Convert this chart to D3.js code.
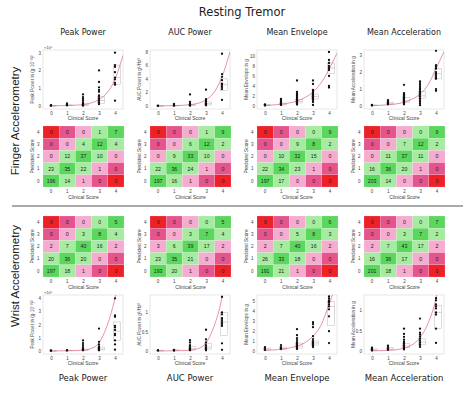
<!DOCTYPE html>
<html><head><meta charset="utf-8">
<script src="https://cdn.jsdelivr.net/npm/d3@7"></script>
<style>body{margin:0;background:#fff}svg{display:block}</style>
</head><body><svg id="c" width="474" height="398"></svg>
<script>
// ---------- data ----------
const scores = [0, 1, 2, 3, 4];
const mainTitle = "Resting Tremor";
const colTitles = ["Peak Power", "AUC Power", "Mean Envelope", "Mean Acceleration"];
const rowTitles = ["Finger Accelerometry", "Wrist Accelerometry"];
const predOrder = [4, 3, 2, 1, 0];
const fitX = [0, 0.5, 1, 1.5, 2, 2.5, 3, 3.5, 4, 4.5];

// confusion matrices: rows = predicted 4..0, cols = clinical 0..4
const fPeakCM = [[0,0,0,1,7],[0,0,4,12,4],[0,12,37,10,0],[23,35,22,1,0],[196,14,1,0,0]];
const fAucCM  = [[0,0,0,1,9],[0,0,6,12,2],[0,9,33,10,0],[22,36,24,1,0],[197,16,1,0,0]];
const fEnvCM  = [[0,0,0,0,9],[0,0,9,8,2],[0,10,32,15,0],[22,34,23,1,0],[197,17,0,0,0]];
const fAccCM  = [[0,0,0,0,9],[0,0,7,12,2],[0,11,37,11,0],[16,36,20,1,0],[203,14,0,0,0]];
const wPeakCM = [[0,0,0,0,5],[0,0,3,8,4],[2,7,40,16,2],[20,36,20,0,0],[197,18,1,0,0]];
const wAucCM  = [[0,0,0,0,5],[0,0,3,7,4],[3,6,39,17,2],[23,35,21,0,0],[193,20,1,0,0]];
const wEnvCM  = [[0,0,0,0,6],[0,0,5,8,3],[2,7,40,16,2],[26,33,18,0,0],[191,21,1,0,0]];
const wAccCM  = [[0,0,0,0,7],[0,0,3,7,2],[2,7,43,17,2],[16,36,17,0,0],[201,18,1,0,0]];

// scatter values per clinical score 0..4
const fPeakPts = [[0.02,0.03,0.05],[0.03,0.06,0.1,0.15],[0.02,0.05,0.1,0.15,0.2,0.3,0.4,0.5,0.65],
  [0.1,0.2,0.3,0.4,0.5,0.6,0.8,0.9,1.05,1.35,2.0],[0.3,1.2,1.3,1.5,1.6,1.9,2.2,2.3,3.0]];
const fPeakBox = [[0,0.01,0.03],[0.02,0.04,0.06],[0.03,0.06,0.12],[0.15,0.3,0.55],[1.2,1.6,2.3]];
const fPeakFit = [0.01,0.015,0.025,0.045,0.08,0.17,0.36,0.74,1.5,2.85];
const fPeakTicks = [0,1,2,3];

const fAucPts = [[0.02,0.05],[0.05,0.1,0.2,0.3],[0.05,0.1,0.2,0.3,0.4,0.6,1.7],
  [0.1,0.2,0.3,0.4,0.6,0.8,1.0,2.4],[0.9,2.5,2.8,3.1,3.3,3.8,4.3,4.7,7.7]];
const fAucBox = [[0,0.02,0.04],[0.03,0.06,0.1],[0.06,0.12,0.25],[0.15,0.35,0.6],[2.3,3.2,4.0]];
const fAucFit = [0.02,0.03,0.05,0.1,0.2,0.4,0.9,2.0,4.3,8.0];
const fAucTicks = [0,2,4,6,8];

const fEnvPts = [[0.1,0.2,0.3],[0.2,0.4,0.6,0.8,1.0,1.2,1.4],
  [0.3,0.5,0.7,0.9,1.1,1.3,1.5,1.7,1.9,2.1,2.3,2.5,2.8,5.1],
  [0.2,0.8,1.2,1.4,1.6,1.8,2.0,2.2,2.4,2.6,2.8,3.0,3.2,4.4,5.1],
  [3.7,4.0,6.0,7.2,7.6,8.0,8.6,9.2,10.8]];
const fEnvBox = [[0.1,0.15,0.25],[0.2,0.35,0.6],[0.6,0.9,1.3],[1.4,1.9,2.4],[6.5,7.6,8.6]];
const fEnvFit = [0.1,0.2,0.35,0.6,1.0,1.7,2.8,4.6,7.3,10.6];
const fEnvTicks = [0,2,4,6,8,10];

const fAccPts = [[0.03,0.06],[0.1,0.15,0.2,0.25,0.3,0.35],
  [0.1,0.15,0.2,0.25,0.3,0.35,0.4,0.45,0.5,0.55,0.6,0.65,0.7,0.75,1.25],
  [0.05,0.15,0.25,0.35,0.45,0.55,0.65,0.75,0.85,0.95,1.05,1.15,1.25,1.35,1.45],
  [0.9,1.0,1.6,1.7,1.8,1.9,2.0,2.2,2.3,2.4,3.25]];
const fAccBox = [[0.02,0.04,0.06],[0.1,0.15,0.22],[0.2,0.3,0.5],[0.45,0.6,0.85],[1.6,1.9,2.2]];
const fAccFit = [0.02,0.04,0.07,0.12,0.22,0.4,0.7,1.25,2.2,3.2];
const fAccTicks = [0,1,2,3];

const wPeakPts = [[0.02,0.04],[0.03,0.06],[0.05,0.1,0.2,0.3,0.45,0.6,0.8],
  [0.05,0.1,0.15,0.25,0.35,0.5,0.7,1.7],[0.1,0.5,0.8,1.2,1.3,1.6,1.8,1.9,2.6,2.7,4.0]];
const wPeakBox = [[0,0.02,0.03],[0.02,0.04,0.06],[0.04,0.08,0.15],[0.08,0.15,0.3],[0.8,1.5,2.2]];
const wPeakFit = [0.005,0.01,0.02,0.03,0.06,0.18,0.62,1.9,4.0,7.0];
const wPeakTicks = [0,1,2,3,4];

const wAucPts = [[0.01,0.02],[0.01,0.02,0.03],[0.02,0.03,0.06,0.1,0.15,0.22,0.28],
  [0.02,0.04,0.06,0.1,0.15,0.22,0.3,0.55],[0.03,0.2,0.65,0.7,0.75,0.8,0.85,0.95,1.0,1.4]];
const wAucBox = [[0,0.01,0.02],[0.01,0.02,0.03],[0.03,0.06,0.12],[0.05,0.1,0.2],[0.4,0.75,1.0]];
const wAucFit = [0.002,0.003,0.005,0.01,0.02,0.06,0.21,0.64,1.4,3.0];
const wAucTicks = [0,0.5,1];

const wEnvPts = [[0.1,0.3,0.4],[0.2,0.3,0.4,0.6],
  [0.2,0.3,0.4,0.5,0.6,0.7,0.8,0.9,1.1,1.3,1.6,2.2],
  [0.4,0.5,0.6,0.7,0.8,0.9,1.0,1.2,1.5,2.4,2.7,2.9],
  [0.8,2.0,3.5,4.2,4.5,4.7,4.9,5.0,5.1,5.3,5.5]];
const wEnvBox = [[0.1,0.2,0.3],[0.15,0.25,0.4],[0.3,0.5,0.8],[0.6,0.8,1.0],[2.6,4.5,5.0]];
const wEnvFit = [0.07,0.1,0.17,0.3,0.5,0.85,1.5,2.6,4.7,7.0];
const wEnvTicks = [0,1,2,3,4,5];

const wAccPts = [[0.01,0.03,0.05,0.08],[0.03,0.06,0.1,0.13],
  [0.04,0.07,0.1,0.14,0.17,0.2,0.23,0.28,0.35,0.42,0.55],
  [0.1,0.15,0.2,0.25,0.3,0.35,0.4,0.45,0.55,0.8],
  [0.2,0.55,0.9,0.95,1.05,1.1,1.15,1.25,1.3]];
const wAccBox = [[0.01,0.03,0.05],[0.03,0.05,0.08],[0.08,0.12,0.18],[0.15,0.22,0.3],[0.55,0.95,1.12]];
const wAccFit = [0.005,0.008,0.015,0.03,0.07,0.15,0.33,0.68,1.3,2.5];
const wAccTicks = [0,0.5,1];

const yLabels = ["Peak Power in (g\u00b710\u207b\u00b3)\u00b2", "AUC Power in g\u00b2/Hz\u00b2", "Mean Envelope in g", "Mean Acceleration in g"];

// ---------- layout ----------
const svg = d3.select("#c");
const colLeft = [43, 150, 257, 364];
const PW = 80;
const diffColors = ["#5bd75e", "#a6eca0", "#f6abd0", "#e5558c", "#ee2127"];
const FONT = "'Liberation Sans', Arial, sans-serif";
const TFONT = "'DejaVu Sans', Verdana, sans-serif";

const fingerPanels = [
  {pts:fPeakPts, box:fPeakBox, fit:fPeakFit, ticks:fPeakTicks, yMax:3.15, expo:"\u00d710\u2076"},
  {pts:fAucPts, box:fAucBox, fit:fAucFit, ticks:fAucTicks, yMax:8.25},
  {pts:fEnvPts, box:fEnvBox, fit:fEnvFit, ticks:fEnvTicks, yMax:11.2},
  {pts:fAccPts, box:fAccBox, fit:fAccFit, ticks:fAccTicks, yMax:3.3}];
const wristPanels = [
  {pts:wPeakPts, box:wPeakBox, fit:wPeakFit, ticks:wPeakTicks, yMax:4.25, expo:"\u00d710\u2075"},
  {pts:wAucPts, box:wAucBox, fit:wAucFit, ticks:wAucTicks, yMax:1.45},
  {pts:wEnvPts, box:wEnvBox, fit:wEnvFit, ticks:wEnvTicks, yMax:5.65},
  {pts:wAccPts, box:wAccBox, fit:wAccFit, ticks:wAccTicks, yMax:1.38}];
const fingerCMs = [fPeakCM, fAucCM, fEnvCM, fAccCM];
const wristCMs = [wPeakCM, wAucCM, wEnvCM, wAccCM];

let clipId = 0;
function scatter(left, top, h, p, yl) {
  const x = d3.scaleLinear().domain([-0.5, 4.5]).range([left, left + PW]);
  const y = d3.scaleLinear().domain([0, p.yMax]).range([top + h - 3, top]);
  const g = svg.append("g");
  const id = "clip" + (clipId++);
  g.append("clipPath").attr("id", id).append("rect")
    .attr("x", left).attr("y", top).attr("width", PW).attr("height", h);
  g.append("rect").attr("x", left).attr("y", top).attr("width", PW).attr("height", h)
    .attr("fill", "#fff").attr("stroke", "#d6d6d6").attr("stroke-width", 0.6);
  // boxes
  const bw = 7;
  scores.forEach(i => {
    const b = p.box[i], cx = x(i) + 2;
    g.append("rect").attr("x", cx - bw / 2).attr("y", y(b[2]))
      .attr("width", bw).attr("height", Math.max(0.6, y(b[0]) - y(b[2])))
      .attr("fill", "none").attr("stroke", "#b8b8b8").attr("stroke-width", 0.5);
    g.append("line").attr("x1", cx - bw / 2).attr("x2", cx + bw / 2)
      .attr("y1", y(b[1])).attr("y2", y(b[1])).attr("stroke", "#c8a0a8").attr("stroke-width", 0.5);
  });
  // fit
  g.append("path").datum(p.fit).attr("clip-path", `url(#${id})`)
    .attr("d", d3.line().x((d, i) => x(fitX[i])).y(d => y(d)).curve(d3.curveMonotoneX))
    .attr("fill", "none").attr("stroke", "#e07a8e").attr("stroke-width", 0.8);
  // points
  const flat = [];
  p.pts.forEach((arr, i) => arr.forEach(v => flat.push([i, v])));
  g.selectAll("circle.p").data(flat).join("circle")
    .attr("cx", d => x(d[0])).attr("cy", d => y(d[1])).attr("r", 1.15).attr("fill", "#111");
  // axes
  const ax = g.append("g").attr("transform", `translate(0,${top + h})`)
    .call(d3.axisBottom(x).tickValues(scores).tickFormat(d3.format("d")).tickSize(0).tickPadding(3));
  const ay = g.append("g").attr("transform", `translate(${left},0)`)
    .call(d3.axisLeft(y).tickValues(p.ticks).tickFormat(d => String(d)).tickSize(0).tickPadding(2));
  [ax, ay].forEach(a => {
    a.select(".domain").remove();
    a.selectAll("text").attr("font-size", 4.5).attr("font-family", FONT).attr("fill", "#444");
  });
  g.append("text").attr("x", left + PW / 2).attr("y", top + h + 11)
    .attr("text-anchor", "middle").attr("font-size", 5).attr("font-family", FONT).attr("fill", "#444")
    .text("Clinical Score");
  g.append("text").attr("transform", `translate(${left - 9},${top + h / 2}) rotate(-90)`)
    .attr("text-anchor", "middle").attr("font-size", 4.6).attr("font-family", FONT).attr("fill", "#444")
    .text(yl);
  if (p.expo) {
    g.append("text").attr("x", left + 1).attr("y", top - 1.5)
      .attr("font-size", 4).attr("font-family", FONT).attr("fill", "#444").text(p.expo);
  }
}

function heat(left, top, cm) {
  const x = d3.scaleBand().domain(scores).range([left, left + 81]);
  const y = d3.scaleBand().domain(predOrder).range([top, top + 61]);
  const g = svg.append("g");
  const cells = [];
  cm.forEach((row, r) => row.forEach((v, c) => cells.push({pred: predOrder[r], clin: c, v})));
  g.selectAll("rect").data(cells).join("rect")
    .attr("x", d => x(d.clin)).attr("y", d => y(d.pred))
    .attr("width", x.bandwidth()).attr("height", y.bandwidth())
    .attr("fill", d => diffColors[Math.abs(d.pred - d.clin)])
    .attr("stroke", "#ffffff").attr("stroke-opacity", 0.35).attr("stroke-width", 0.4);
  g.selectAll("text.v").data(cells).join("text")
    .attr("x", d => x(d.clin) + x.bandwidth() / 2).attr("y", d => y(d.pred) + y.bandwidth() / 2 + 1.8)
    .attr("text-anchor", "middle").attr("font-size", 5.2).attr("font-family", FONT).attr("fill", "#222")
    .text(d => d.v);
  scores.forEach(s => {
    g.append("text").attr("x", x(s) + x.bandwidth() / 2).attr("y", top + 61 + 5.5)
      .attr("text-anchor", "middle").attr("font-size", 4.5).attr("font-family", FONT).attr("fill", "#444").text(s);
    g.append("text").attr("x", left - 3.5).attr("y", y(s) + y.bandwidth() / 2 + 1.6)
      .attr("text-anchor", "end").attr("font-size", 4.5).attr("font-family", FONT).attr("fill", "#444").text(s);
  });
  g.append("text").attr("x", left + 40.5).attr("y", top + 61 + 12)
    .attr("text-anchor", "middle").attr("font-size", 5).attr("font-family", FONT).attr("fill", "#444").text("Clinical Score");
  g.append("text").attr("transform", `translate(${left - 9},${top + 30.5}) rotate(-90)`)
    .attr("text-anchor", "middle").attr("font-size", 4.8).attr("font-family", FONT).attr("fill", "#444").text("Predicted Score");
}

// title
svg.append("text").attr("x", 242).attr("y", 16).attr("text-anchor", "middle")
  .attr("font-size", 11.5).attr("font-family", TFONT).attr("fill", "#222").text(mainTitle);

colTitles.forEach((t, i) => {
  svg.append("text").attr("x", colLeft[i] + PW / 2).attr("y", 35).attr("text-anchor", "middle")
    .attr("font-size", 8).attr("font-family", TFONT).attr("fill", "#222").text(t);
  svg.append("text").attr("x", colLeft[i] + PW / 2).attr("y", 381).attr("text-anchor", "middle")
    .attr("font-size", 8.5).attr("font-family", TFONT).attr("fill", "#222").text(t);
});

// row titles
svg.append("text").attr("transform", "translate(19,121) rotate(-90)").attr("text-anchor", "middle")
  .attr("font-size", 11.5).attr("font-family", FONT).attr("fill", "#222").text(rowTitles[0]);
svg.append("text").attr("transform", "translate(19,276) rotate(-90)").attr("text-anchor", "middle")
  .attr("font-size", 11.5).attr("font-family", FONT).attr("fill", "#222").text(rowTitles[1]);

// divider
svg.append("line").attr("x1", 12).attr("x2", 463).attr("y1", 206).attr("y2", 206)
  .attr("stroke", "#555").attr("stroke-width", 1);

fingerPanels.forEach((p, i) => scatter(colLeft[i], 50, 59, p, yLabels[i]));
fingerCMs.forEach((cm, i) => heat(colLeft[i], 126, cm));
wristCMs.forEach((cm, i) => heat(colLeft[i], 216, cm));
wristPanels.forEach((p, i) => scatter(colLeft[i], 295, 59, p, yLabels[i]));
</script></body></html>
